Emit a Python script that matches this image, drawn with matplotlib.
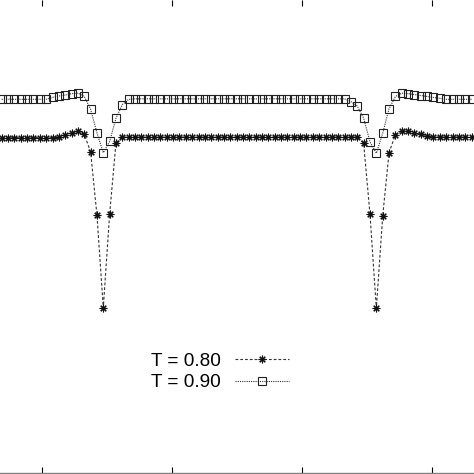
import numpy as np
import matplotlib
matplotlib.use("Agg")
import matplotlib.pyplot as plt

plt.rcParams['font.family'] = ['Liberation Sans', 'DejaVu Sans']

# site index
x = np.arange(75)

t080 = ([0.708] * 9 + [0.710, 0.714, 0.718, 0.721, 0.715]
        + [0.678, 0.544, 0.348, 0.547, 0.697]
        + [0.709] * 38
        + [0.696, 0.546, 0.347, 0.542, 0.676]
        + [0.714, 0.722, 0.721, 0.718, 0.715, 0.712, 0.710]
        + [0.709] * 6)

t090 = ([0.789] * 8
        + [0.793, 0.796, 0.798, 0.801, 0.802, 0.795, 0.768, 0.718, 0.676,
           0.700, 0.749, 0.778, 0.789]
        + [0.790] * 34
        + [0.784, 0.775, 0.749, 0.699, 0.675, 0.717, 0.769, 0.795, 0.802,
           0.801, 0.799, 0.797, 0.795, 0.793, 0.791]
        + [0.789] * 5)

labels = ["T = 0.80", "T = 0.90"]
tick_pos = [6.35, 26.82, 47.29, 67.76]

fig = plt.figure(figsize=(4.74, 4.74), dpi=100)
ax = fig.add_axes([0.0, 0.00316, 1.0, 0.99789])

ax.plot(x, t080, color='#333333', lw=0.8, linestyle=(0, (2.5, 1.8)),
        marker=(8, 2, 0), ms=5.5, mew=0.8, mec='#111111', label=labels[0])
ax.plot(x, t090, color='#333333', lw=0.8, linestyle=(0, (1.0, 1.0)),
        marker='s', ms=5.4, mew=0.8, mec='#222222', mfc='none', label=labels[1])

ax.set_xlim(-0.268, 74.38)
ax.set_ylim(0, 1)
ax.set_xticks(tick_pos)
ax.set_yticks([])
ax.tick_params(axis='x', direction='in', length=4.3, width=0.8, top=True,
               bottom=True, labelbottom=False, labeltop=False, color='black')
for s in ['left', 'right', 'top']:
    ax.spines[s].set_visible(False)
ax.spines['bottom'].set_color('#808080')
ax.spines['bottom'].set_linewidth(1.0)

leg = ax.legend(loc='center', bbox_to_anchor=(220 / 474, 1 - 372 / 474),
                bbox_transform=fig.transFigure, frameon=False, markerfirst=False,
                fontsize=13.7, handlelength=2.8, handletextpad=0.75,
                labelspacing=0.22, numpoints=1, borderpad=0)

fig.savefig("out.png", dpi=100)
